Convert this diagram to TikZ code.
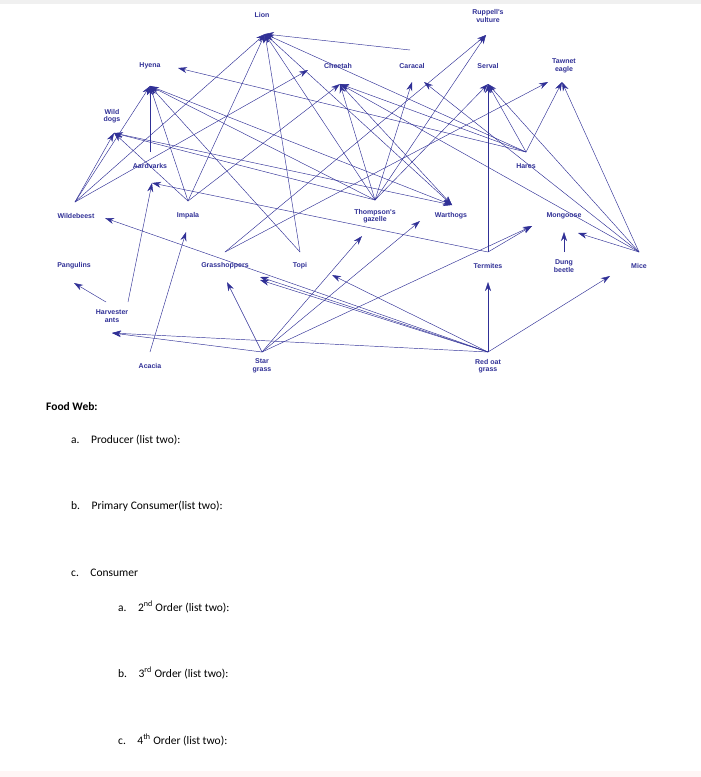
\documentclass[tikz,border=0pt]{standalone}
\usepackage{fontspec}
\setmainfont{Carlito}
\newfontfamily\lab{Liberation Sans}
\usetikzlibrary{arrows.meta}
\definecolor{web}{RGB}{48,48,150}
\begin{document}
\begin{tikzpicture}[x=1pt,y=-1pt,
  lbl/.style={font=\lab\bfseries\fontsize{7}{7.5}\selectfont,text=web,align=center,inner sep=0pt},
  e/.style={draw=web,line width=0.45pt,-{Stealth[length=9pt,width=6pt]}},
  txt/.style={font=\fontsize{11.5}{13}\selectfont,anchor=west,inner sep=0pt}]
\useasboundingbox (0,0) rectangle (701,777);
\fill[gray!12] (0,0) rectangle (701,4);
\fill[red!4] (0,771) rectangle (701,777);
% labels
\node[lbl] (lion) at (262,15) {Lion};
\node[lbl] (rupp) at (488,16) {Ruppell's\\vulture};
\node[lbl] (hyena) at (150,66) {Hyena};
\node[lbl] (cheetah) at (338,66) {Cheetah};
\node[lbl] (caracal) at (412,66) {Caracal};
\node[lbl] (serval) at (488,66) {Serval};
\node[lbl] (tawnet) at (564,66) {Tawnet\\eagle};
\node[lbl] (wdogs) at (112,116) {Wild\\dogs};
\node[lbl] (hares) at (526,166) {Hares};
\node[lbl] (aard) at (150,166) {Aardvarks};
\node[lbl] (wild) at (76,216) {Wildebeest};
\node[lbl] (impala) at (188,216) {Impala};
\node[lbl] (thom) at (375,216) {Thompson's\\gazelle};
\node[lbl] (wart) at (451,216) {Warthogs};
\node[lbl] (mong) at (564,216) {Mongoose};
\node[lbl] (pang) at (74,266) {Pangulins};
\node[lbl] (grass) at (225,266) {Grasshoppers};
\node[lbl] (topi) at (300,266) {Topi};
\node[lbl] (term) at (488,266) {Termites};
\node[lbl] (dung) at (564,266) {Dung\\beetle};
\node[lbl] (mice) at (639,266) {Mice};
\node[lbl] (harv) at (112,316) {Harvester\\ants};
\node[lbl] (acacia) at (150,366) {Acacia};
\node[lbl] (star) at (262,366) {Star\\grass};
\node[lbl] (redoat) at (488,366) {Red oat\\grass};
% in/out points
\coordinate (lionI) at (265,34);
\coordinate (ruppI) at (486,35);
\coordinate (hyenaI) at (150,86);
\coordinate (hyenaL) at (178,68);
\coordinate (cheetahI) at (340,84);
\coordinate (cheetahL) at (308,70);
\coordinate (caracalI) at (412,82);
\coordinate (caracalR) at (424,82);
\coordinate (caracalO) at (410,50);
\coordinate (servalI) at (488,84);
\coordinate (tawnetI) at (562,82);
\coordinate (tawnetL) at (548,82);
\coordinate (wdogsI) at (114,133);
\coordinate (haresO) at (526,152);
\coordinate (aardI) at (152,183);
\coordinate (aardO) at (150,152);
\coordinate (wildO) at (75,202);
\coordinate (wildI) at (105,218);
\coordinate (impalaO) at (188,201);
\coordinate (impalaI) at (186,232);
\coordinate (thomO) at (375,200);
\coordinate (thomI) at (362,236);
\coordinate (wartI) at (452,205);
\coordinate (wartB) at (420,221);
\coordinate (mongI) at (532,226);
\coordinate (mongB) at (564,232);
\coordinate (mongR) at (578,233);
\coordinate (pangI) at (74,283);
\coordinate (grassO) at (225,252);
\coordinate (grassI) at (227,282);
\coordinate (grassR) at (260,277);
\coordinate (topiO) at (300,252);
\coordinate (topiI) at (332,275);
\coordinate (termO) at (488,252);
\coordinate (termI) at (488,282);
\coordinate (dungO) at (564,252);
\coordinate (miceO) at (639,252);
\coordinate (miceI) at (610,276);
\coordinate (harvO) at (106,302);
\coordinate (harvT) at (128,302);
\coordinate (harvI) at (112,333);
\coordinate (acaciaO) at (150,352);
\coordinate (starO) at (262,352);
\coordinate (redO) at (488,352);
% producers
\draw[e] (acaciaO) -- (impalaI);
\draw[e] (starO) -- (grassI);
\draw[e] (starO) -- (thomI);
\draw[e] (starO) -- (wartB);
\draw[e] (starO) -- (harvI);
\draw[e] (starO) -- (mongI);
\draw[e] (redO) -- (harvI);
\draw[e] (redO) -- (termI);
\draw[e] (redO) -- (miceI);
\draw[e] (redO) -- (grassR);
\draw[e] (redO) -- ([yshift=-3]grassR);
\draw[e] (redO) -- (topiI);
\draw[e] (redO) -- (wildI);
% herbivores
\draw[e] (wildO) -- (lionI);
\draw[e] (wildO) -- (hyenaI);
\draw[e] (wildO) -- (wdogsI);
\draw[e] (impalaO) -- (lionI);
\draw[e] (impalaO) -- (hyenaI);
\draw[e] (impalaO) -- (wdogsI);
\draw[e] (impalaO) -- (cheetahI);
\draw[e] (wildO) -- (cheetahL);
\draw[e] (thomO) -- (lionI);
\draw[e] (thomO) -- (hyenaI);
\draw[e] (thomO) -- (cheetahI);
\draw[e] (thomO) -- (wdogsI);
\draw[e] (thomO) -- (caracalI);
\draw[e] (thomO) -- (servalI);
\draw[e] (thomO) -- (ruppI);
\draw[e] (topiO) -- (lionI);
\draw[e] (topiO) -- (hyenaI);
\draw[e] (lionI) -- (wartI);
\draw[e] (hyenaI) -- (wartI);
\draw[e] (wdogsI) -- (wartI);
\draw[e] (cheetahI) -- (wartI);
\draw[e] (grassO) -- (ruppI);
\draw[e] (grassO) -- (tawnetL);
\draw[e] (termO) -- (aardI);
\draw[e] (termO) -- (mongI);
\draw[e] (termO) -- (servalI);
\draw[e] (harvO) -- (pangI);
\draw[e] (harvT) -- (aardI);
\draw[e] (dungO) -- (mongB);
\draw[e] (miceO) -- (mongR);
\draw[e] (miceO) -- (servalI);
\draw[e] (miceO) -- (tawnetI);
\draw[e] (miceO) -- (caracalR);
\draw[e] (miceO) -- (cheetahI);
\draw[e] (haresO) -- (servalI);
\draw[e] (haresO) -- (tawnetI);
\draw[e] (haresO) -- (cheetahI);
\draw[e] (haresO) -- (hyenaL);
\draw[e] (haresO) -- (lionI);
\draw[e] (aardO) -- (hyenaI);
\draw[e] (caracalO) -- (lionI);
% questions
\node[txt,font=\bfseries\fontsize{11.5}{13}\selectfont] (fw) at (46,407) {Food Web:};
\node[txt] (qa) at (71,440) {a.\quad Producer (list two):};
\node[txt] (qb) at (71,506) {b.\quad Primary Consumer(list two):};
\node[txt] (qc) at (71,573) {c.\quad Consumer};
\node[txt] (q1) at (118,607) {a.\quad 2\textsuperscript{nd} Order (list two):};
\node[txt] (q2) at (118,673) {b.\quad 3\textsuperscript{rd} Order (list two):};
\node[txt] (q3) at (118,740) {c.\quad 4\textsuperscript{th} Order (list two):};
\end{tikzpicture}
\end{document}
